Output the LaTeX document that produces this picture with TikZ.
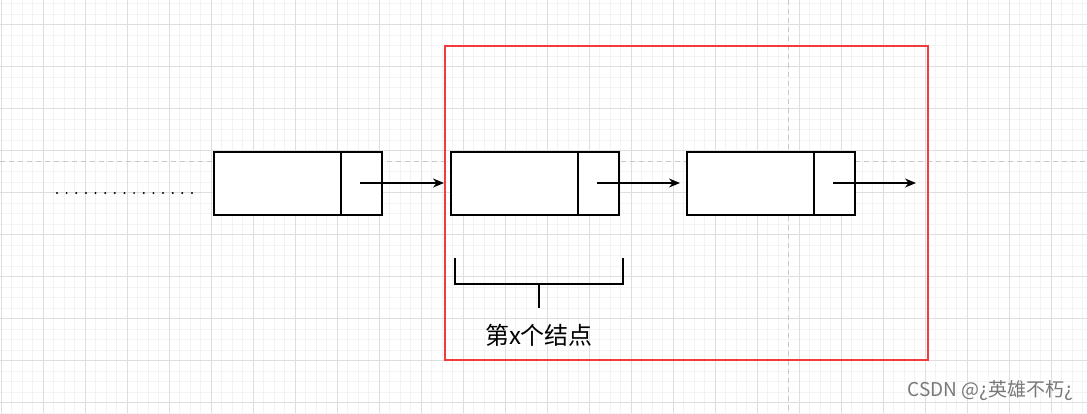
\documentclass[tikz,border=0pt]{standalone}
\usepackage{fontspec}
\usetikzlibrary{arrows.meta}
\newfontfamily\cjk{Noto Sans CJK SC}
\definecolor{gminor}{RGB}{243,243,243}
\definecolor{gmajor}{RGB}{222,222,222}
\definecolor{gdash}{RGB}{200,200,200}
\definecolor{fred}{RGB}{240,60,60}
\definecolor{wmgray}{RGB}{120,120,120}
\begin{document}
\begin{tikzpicture}[x=1pt,y=-1pt,
  box/.style={draw=black,line width=1.8pt},
  arr/.style={-{Stealth[length=11pt,width=9pt]},line width=1.6pt},
  minor/.style={draw=gminor,line width=0.6pt},
  major/.style={draw=gmajor,line width=0.8pt},
  gdashed/.style={draw=gdash,line width=1pt,dash pattern=on 5pt off 4pt}]
\useasboundingbox (0,0) rectangle (1087,413);
\fill[white] (0,0) rectangle (1087,413);
\foreach \i in {0,...,104} {\draw[minor] ({1+10.5*\i},0) -- ({1+10.5*\i},413);}
\foreach \i in {-15,...,25} {\draw[minor] (0,{150.7+10.5*\i}) -- (1087,{150.7+10.5*\i});}
\foreach \i in {0,...,26} {\draw[major] ({1+42*\i},0) -- ({1+42*\i},413);}
\foreach \i in {-4,...,7} {\draw[major] (0,{150.7+42*\i}) -- (1087,{150.7+42*\i});}
\draw[gdashed] (0,161.5) -- (1087,161.5);
\draw[gdashed] (788,0) -- (788,413);
\node[draw=fred,line width=1.6pt,minimum width=483pt,minimum height=314pt,inner sep=0pt] (frame) at (686.5,203) {};
\foreach \n/\x in {a/213,b/450,c/686}{
  \node[box,fill=white,minimum width=168pt,minimum height=63pt,inner sep=0pt,anchor=north west] (\n) at (\x,151) {};
  \draw[line width=1.8pt] ([xshift=-42pt]\n.north east) -- ([xshift=-42pt]\n.south east);
}
\coordinate (a0) at (360,183); \coordinate (b0) at (597,183); \coordinate (c0) at (833,183);
\coordinate (endc) at (916,183);
\draw[arr,shorten >=6pt] (a0) -- (a0 -| b.west);
\draw[arr,shorten >=6pt] (b0) -- (b0 -| c.west);
\draw[arr] (c0) -- (endc);
\foreach \k in {0,...,14} \fill (57+9.64*\k,193) circle (1.1pt);
\coordinate (br1) at (455,258); \coordinate (br2) at (623,258);
\draw[line width=1.6pt] (br1) -- (455,284) -- (623,284) -- (br2);
\draw[line width=1.6pt] (539,284) -- (539,308);
\node[font=\cjk\fontsize{24pt}{28pt}\selectfont] (lbl) at (539,335) {第x个结点};
\node[font=\cjk\fontsize{19pt}{22pt}\selectfont,text=wmgray,anchor=east] (wm) at (1077,391) {CSDN @¿英雄不朽¿};
\end{tikzpicture}
\end{document}
